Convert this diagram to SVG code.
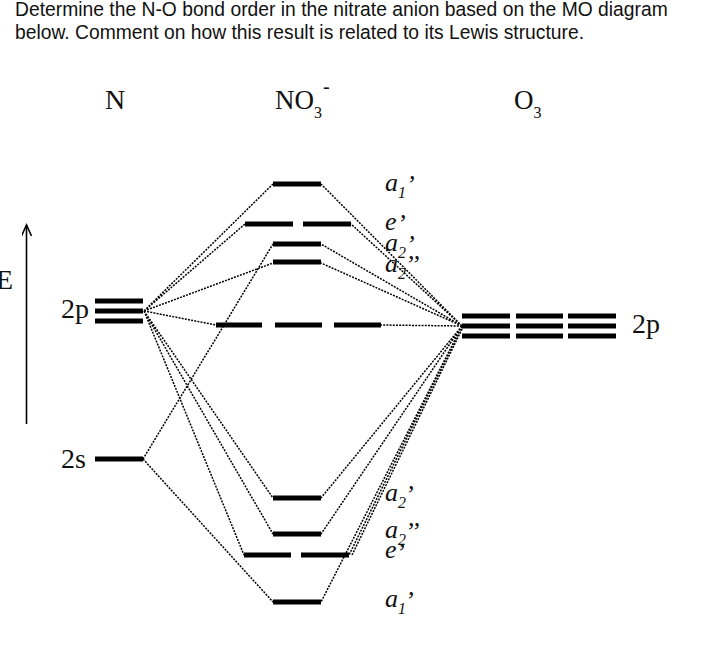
<svg xmlns="http://www.w3.org/2000/svg" width="704" height="649" viewBox="0 0 704 649">
<style>
.h{font-family:"Liberation Sans",Arial,sans-serif;font-size:19.3px;fill:#111}
.s{font-family:"Liberation Serif","Times New Roman",serif;fill:#111;font-size:28px}
.i{font-family:"Liberation Serif","Times New Roman",serif;font-style:italic;fill:#111;font-size:26px}
.sub{font-size:16px}
.b{stroke:#000;stroke-width:5;fill:none}
.c{stroke:#000;stroke-width:1.5;stroke-dasharray:2 1.2;fill:none}
</style>
<defs><marker id="ah" markerWidth="14" markerHeight="10" refX="12" refY="5" orient="auto" markerUnits="userSpaceOnUse"><path d="M1 0 L12 5 L1 10" fill="none" stroke="#000" stroke-width="1.6"/></marker></defs>
<rect width="704" height="649" fill="#fff"/>
<g id="question">
<text class="h" x="15" y="15.500">Determine the N-O bond order in the nitrate anion based on the MO diagram</text>
<text class="h" x="15" y="38.500">below. Comment on how this result is related to its Lewis structure.</text>
</g>
<g id="connectors">
<path class="c" d="M144 311L273 184M144 311L245 224M144 311L273 263M144 311L216 325M144 311L273 498M144 311L273 534M144 311L244 555"/>
<path class="c" d="M143 459L273 244M143 459L273 602"/>
<path class="c" d="M462 326L321 184M462 326L351 224M462 326L321 244M462 326L321 263M462 326L381 325M462 326L321 498M462 326L321 534M462 326L349 555M463.500 326L352 555M462 326L321 602"/>
</g>
<g id="energy-axis">
<path d="M26.500 424V225" stroke="#000" stroke-width="1.600" fill="none" marker-end="url(#ah)"/>
<text class="s" x="-4" y="288.500">E</text>
</g>
<g id="n-header"><text class="s" x="105" y="109">N</text></g>
<g id="no3-header"><text class="s" x="275" y="109" style="font-size:27px">NO<tspan class="sub" y="118">3</tspan></text><text class="s" x="323" y="93" style="font-size:20px">-</text></g>
<g id="o3-header"><text class="s" x="514" y="109" style="font-size:27px">O<tspan class="sub" y="118">3</tspan></text></g>
<g id="n-2p"><text class="s" x="61" y="318">2p</text><path class="b" d="M95 301H143M95 311H143M95 321H143"/></g>
<g id="n-2s"><text class="s" x="61" y="468">2s</text><path class="b" d="M95 459H143"/></g>
<g id="o-2p"><path class="b" d="M462 316H510M516 316H563M568 316H616M462 326H510M516 326H563M568 326H616M462 336H510M516 336H563M568 336H616"/><text class="s" x="632" y="333">2p</text></g>
<g id="mo-a1-top"><path class="b" d="M273 184H321"/><text class="i" x="385" y="191">a<tspan class="sub" y="198">1</tspan><tspan x="406" y="193">’</tspan></text></g>
<g id="mo-e-top"><path class="b" d="M245 224H293M303 224H351"/><text class="i" x="385" y="230">e<tspan x="397" y="232">’</tspan></text></g>
<g id="mo-a2-top"><path class="b" d="M273 244H321"/><text class="i" x="385" y="251">a<tspan class="sub" y="258">2</tspan><tspan x="406" y="253">’</tspan></text></g>
<g id="mo-a2pp-top"><path class="b" d="M273 262H321"/><text class="i" x="385" y="272">a<tspan class="sub" y="279">2</tspan><tspan x="405" y="273">’’</tspan></text></g>
<g id="mo-e-nb"><path class="b" d="M216 325H262M275 325H322M334 325H381"/></g>
<g id="mo-a2-bottom"><path class="b" d="M273 498H321"/><text class="i" x="385" y="501">a<tspan class="sub" y="508">2</tspan><tspan x="405" y="503">’</tspan></text></g>
<g id="mo-a2pp-bottom"><path class="b" d="M273 534H321"/><text class="i" x="385" y="538">a<tspan class="sub" y="545">2</tspan><tspan x="405" y="540">’’</tspan></text></g>
<g id="mo-e-bottom"><path class="b" d="M244 555H291M301 555H349"/><text class="i" x="385" y="558">e<tspan x="396" y="561">’</tspan></text></g>
<g id="mo-a1-bottom"><path class="b" d="M273 602H321"/><text class="i" x="385" y="607">a<tspan class="sub" y="614">1</tspan><tspan x="405" y="609">’</tspan></text></g>
</svg>
